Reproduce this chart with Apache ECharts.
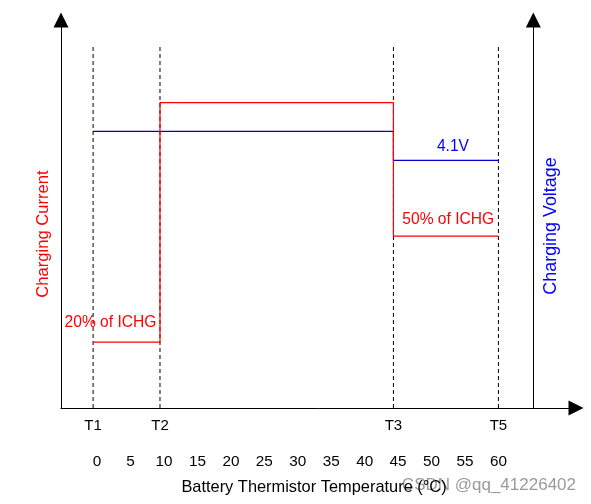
<!DOCTYPE html>
<html>
<head>
<meta charset="utf-8">
<script src="https://cdn.jsdelivr.net/npm/echarts@6/dist/echarts.min.js"></script>
<style>
  html, body { margin: 0; padding: 0; background: #fff; }
  #chart { width: 591px; height: 504px; }
</style>
</head>
<body>
<div id="chart"></div>
<script>
// 温度刻度
const tempTicks = [0, 5, 10, 15, 20, 25, 30, 35, 40, 45, 50, 55, 60]
// 阈值点 (位置按图读出)
const thresholdNames = ['T1', 'T2', 'T3', 'T5']
const thresholdTemps = [-0.6, 9.4, 44.3, 60]
// 充电电流: 低 / 高 / 降额 (示意单位)
const currentLevels = [17.0, 78.7, 44.3]
// 充电电压: 正常 / 4.1V
const voltageLevels = [71.3, 63.8]
// 虚线顶端
const dashTop = 93.4
// 标注
const noteTexts = ['20% of ICHG', '50% of ICHG', '4.1V']
const noteTemps = [2.0, 52.5, 53.2]
const noteLevels = [22.0, 48.5, 67.3]
const noteColors = ['#ff0000', '#ff0000', '#0000ff']

const [t1, t2, t3, t5] = thresholdTemps

const currentData = [
  [t1, currentLevels[0]], [t2, currentLevels[0]],
  [t2, currentLevels[1]], [t3, currentLevels[1]],
  [t3, currentLevels[2]], [t5, currentLevels[2]]
]
const voltageData = [
  [t1, voltageLevels[0]], [t3, voltageLevels[0]],
  [t3, voltageLevels[1]], [t5, voltageLevels[1]]
]

const FONT = "'Liberation Sans', Arial, sans-serif"

const axisArrow = {
  show: true,
  onZero: false,
  symbol: ['none', 'triangle'],
  symbolSize: [15, 15],
  lineStyle: { color: '#000', width: 1 }
}

const dashSeries = thresholdTemps.map((t) => ({
  type: 'line',
  data: [[t, 0], [t, dashTop]],
  symbol: 'none',
  silent: true,
  z: 1,
  lineStyle: { color: '#000', width: 1, type: [4, 3] }
}))

const chart = echarts.init(document.getElementById('chart'))
chart.setOption({
  animation: false,
  textStyle: { fontFamily: FONT },
  grid: { left: 61, right: 15, top: 20, bottom: 96, outerBoundsMode: 'none' },
  xAxis: [
    {
      type: 'value',
      min: -5.4,
      max: 71.6,
      position: 'bottom',
      axisLine: axisArrow,
      axisTick: { show: false },
      splitLine: { show: false },
      axisLabel: {
        customValues: thresholdTemps,
        formatter: (v) => thresholdNames[thresholdTemps.indexOf(v)],
        color: '#000',
        fontSize: 15,
        margin: 10
      }
    },
    {
      type: 'value',
      min: -5.4,
      max: 71.6,
      position: 'bottom',
      offset: 36,
      axisLine: { show: false },
      axisTick: { show: false },
      splitLine: { show: false },
      axisLabel: {
        customValues: tempTicks,
        color: '#000',
        fontSize: 15.3,
        margin: 10
      },
      name: 'Battery Thermistor Temperature (°C)',
      nameLocation: 'middle',
      nameGap: 35,
      nameTextStyle: { color: '#000', fontSize: 16.4, padding: [0, 9, 0, 0] }
    }
  ],
  yAxis: [
    {
      type: 'value',
      min: 0,
      max: 100,
      position: 'left',
      axisLine: axisArrow,
      axisTick: { show: false },
      axisLabel: { show: false },
      splitLine: { show: false },
      name: 'Charging Current',
      nameLocation: 'middle',
      nameGap: 9,
      nameTextStyle: { color: '#ff0000', fontSize: 16.6, padding: [0, 40, 0, 0] }
    },
    {
      type: 'value',
      min: 0,
      max: 100,
      position: 'right',
      offset: -42.7,
      axisLine: axisArrow,
      axisTick: { show: false },
      axisLabel: { show: false },
      splitLine: { show: false },
      name: 'Charging Voltage',
      nameLocation: 'middle',
      nameGap: 9,
      nameTextStyle: { color: '#0000ff', fontSize: 17.9, padding: [0, 24, 0, 0] }
    }
  ],
  series: [
    ...dashSeries,
    {
      type: 'line',
      name: 'voltage',
      yAxisIndex: 1,
      data: voltageData,
      symbol: 'none',
      z: 3,
      lineStyle: { color: '#0000cc', width: 1.2 }
    },
    {
      type: 'line',
      name: 'current',
      data: currentData,
      symbol: 'none',
      z: 4,
      lineStyle: { color: '#ff0000', width: 1.2 },
      markPoint: {
        symbol: 'circle',
        symbolSize: 0,
        silent: true,
        data: noteTexts.map((txt, i) => ({
          coord: [noteTemps[i], noteLevels[i]],
          label: {
            show: true,
            position: 'inside',
            formatter: txt,
            color: noteColors[i],
            fontSize: 15.6,
            fontFamily: FONT
          }
        }))
      }
    }
  ],
  graphic: [
    {
      type: 'text',
      right: 15,
      top: 477,
      silent: true,
      style: {
        text: 'CSDN @qq_41226402',
        fill: 'rgba(120,120,120,0.75)',
        font: "17px " + FONT
      }
    }
  ]
})
</script>
</body>
</html>
